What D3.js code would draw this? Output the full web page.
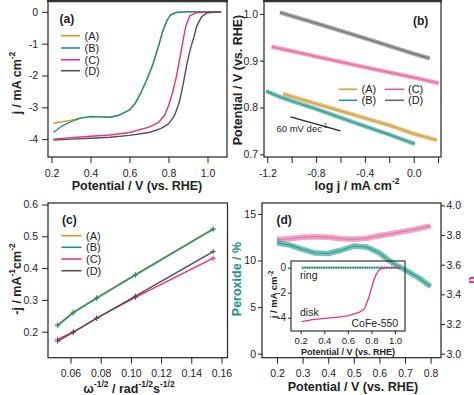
<!DOCTYPE html>
<html>
<head>
<meta charset="utf-8">
<script src="https://cdn.jsdelivr.net/npm/d3@7"></script>
<style>
  body { margin: 0; background: #fff; }
  svg { font-family: "Liberation Sans", Arial, sans-serif; }
</style>
</head>
<body>
<svg id="fig" width="474" height="395"></svg>
<script>
// ---- data ----
// (a) LSV curves
const lsvV_AB = [0.21, 0.25, 0.30, 0.35, 0.40, 0.45, 0.50, 0.55, 0.60, 0.63, 0.66, 0.69, 0.72, 0.75, 0.77, 0.79, 0.81, 0.84, 0.88, 0.95, 1.07];
const lsvJ_A = [-3.50, -3.46, -3.40, -3.33, -3.29, -3.30, -3.31, -3.24, -3.08, -2.87, -2.52, -2.12, -1.65, -1.05, -0.62, -0.30, -0.10, -0.02, 0, 0, 0];
const lsvJ_B = [-3.79, -3.60, -3.45, -3.34, -3.29, -3.30, -3.31, -3.24, -3.08, -2.87, -2.52, -2.12, -1.65, -1.05, -0.62, -0.30, -0.10, -0.02, 0, 0, 0];
const lsvV_C = [0.21, 0.30, 0.40, 0.50, 0.60, 0.70, 0.75, 0.78, 0.80, 0.82, 0.84, 0.86, 0.875, 0.89, 0.91, 0.95, 1.07];
const lsvJ_C = [-4.00, -3.95, -3.91, -3.87, -3.79, -3.62, -3.47, -3.25, -2.95, -2.55, -2.05, -1.40, -0.88, -0.42, -0.12, -0.02, 0];
const lsvV_D = [0.21, 0.30, 0.40, 0.50, 0.60, 0.70, 0.76, 0.80, 0.83, 0.855, 0.875, 0.895, 0.915, 0.93, 0.945, 0.97, 1.00, 1.07];
const lsvJ_D = [-4.03, -4.00, -3.97, -3.94, -3.88, -3.79, -3.67, -3.52, -3.27, -2.85, -2.28, -1.62, -1.10, -0.80, -0.45, -0.15, -0.03, 0];

// (b) Tafel plots
const tafX_A = [-1.07, -0.8, -0.5, -0.2, 0.0, 0.19];
const tafY_A = [0.829, 0.808, 0.785, 0.762, 0.744, 0.730];
const tafX_B = [-1.21, -1.1, -1.0, -0.8, -0.5, -0.2, 0.01];
const tafY_B = [0.835, 0.823, 0.814, 0.797, 0.769, 0.742, 0.722];
const tafX_C = [-1.165, -0.8, -0.4, 0.0, 0.205];
const tafY_C = [0.930, 0.909, 0.886, 0.864, 0.852];
const tafX_D = [-1.096, -0.8, -0.4, 0.0, 0.131];
const tafY_D = [1.003, 0.980, 0.948, 0.915, 0.905];
const slopeX = [-1.01, -0.60];
const slopeY = [0.780, 0.750];

// (c) Koutecky-Levich
const klX = [0.0515, 0.0618, 0.0773, 0.1030, 0.1545];
const klA = [0.222, 0.262, 0.307, 0.380, 0.524];
const klB = [0.219, 0.259, 0.305, 0.378, 0.522];
const klC = [0.176, 0.199, 0.243, 0.308, 0.431];
const klD = [0.170, 0.198, 0.242, 0.312, 0.452];

// (d) peroxide yield and electron number
const rrdeV = [0.20, 0.25, 0.30, 0.35, 0.40, 0.45, 0.50, 0.55, 0.60, 0.65, 0.70, 0.75, 0.80];
const peroxide = [11.9, 11.65, 11.2, 10.8, 10.75, 11.1, 11.55, 11.45, 10.8, 9.75, 9.0, 8.2, 7.2];
const electronN = [3.770, 3.775, 3.785, 3.788, 3.785, 3.775, 3.772, 3.778, 3.795, 3.810, 3.825, 3.842, 3.862];
// (d) inset: ring & disk
const diskV = [0.21, 0.30, 0.40, 0.50, 0.60, 0.70, 0.74, 0.76, 0.78, 0.80, 0.82, 0.84, 0.86, 0.88, 0.92, 1.05];
const diskJ = [-4.32, -4.15, -4.05, -3.97, -3.85, -3.55, -3.30, -2.85, -2.30, -1.65, -1.00, -0.55, -0.22, -0.08, -0.02, 0];
const ringV = [0.21, 0.40, 0.60, 0.80, 1.05];
const ringJ = [0, 0, 0, 0, 0];

// ticks
const aTicksX = [0.2, 0.4, 0.6, 0.8, 1.0], aTicksY = [0, -1, -2, -3, -4];
const bTicksX = [-1.2, -0.8, -0.4, 0.0], bMinorX = [-1.0, -0.6, -0.2, 0.2], bTicksY = [0.7, 0.8, 0.9, 1.0];
const cTicksX = [0.06, 0.08, 0.10, 0.12, 0.14, 0.16], cTicksY = [0.2, 0.3, 0.4, 0.5, 0.6];
const dTicksX = [0.2, 0.3, 0.4, 0.5, 0.6, 0.7, 0.8], dTicksL = [0, 5, 10, 15], dTicksR = [3.0, 3.2, 3.4, 3.6, 3.8, 4.0];
const iTicksX = [0.2, 0.4, 0.6, 0.8, 1.0], iTicksY = [0, -2, -4];

const legendNames = ["(A)", "(B)", "(C)", "(D)"];

const ink = "#222";
const colA = "#d6952a", colB = "#1b9486", colC = "#e8307c", colD = "#505050";

const svg = d3.select("#fig");

// ---- helpers ----
function box(x, y, w) {
  const [x0, x1] = x.range(), [y0, y1] = y.range();
  svg.append("rect")
    .attr("x", x0).attr("y", y1)
    .attr("width", x1 - x0).attr("height", y0 - y1)
    .attr("fill", "none").attr("stroke", ink).attr("stroke-width", w || 1.2);
}

function styleAxis(g, fs) {
  g.attr("font-family", null).attr("font-size", null);
  g.select(".domain").remove();
  g.selectAll(".tick line").attr("stroke", ink).attr("stroke-width", 1);
  g.selectAll(".tick text").attr("fill", ink).style("font-size", fs + "px");
}

function xAxis(x, y, ticks, fmt, size, pad, fs) {
  const g = svg.append("g")
    .attr("transform", `translate(0,${y.range()[0]})`)
    .call(d3.axisBottom(x).tickValues(ticks).tickFormat(fmt).tickSize(size).tickPadding(pad));
  styleAxis(g, fs);
}

function yAxis(x, y, ticks, fmt, size, pad, fs, right) {
  const ax = right ? d3.axisRight(y) : d3.axisLeft(y);
  const g = svg.append("g")
    .attr("transform", `translate(${right ? x.range()[1] : x.range()[0]},0)`)
    .call(ax.tickValues(ticks).tickFormat(fmt).tickSize(size).tickPadding(pad));
  styleAxis(g, fs);
}

// text made of parts; sup parts are raised and smaller
function rich(x, y, parts, opt) {
  const fs = opt.size;
  const t = svg.append("text")
    .attr("text-anchor", opt.anchor || "middle")
    .attr("font-weight", opt.bold ? "bold" : "normal")
    .attr("fill", opt.color || ink)
    .style("font-size", fs + "px");
  if (opt.rotate) t.attr("transform", `translate(${x},${y}) rotate(${opt.rotate})`);
  else t.attr("x", x).attr("y", y);
  let up = false;
  parts.forEach(p => {
    const sup = Array.isArray(p);
    const s = t.append("tspan").text(sup ? p[0] : p);
    if (sup && !up) { s.attr("dy", -fs * 0.42).style("font-size", (fs * 0.68) + "px"); up = true; }
    else if (sup) { s.style("font-size", (fs * 0.68) + "px"); }
    else if (up) { s.attr("dy", fs * 0.42); up = false; }
  });
  return t;
}

function curve(x, y, xs, ys, color, width, extra) {
  const p = svg.append("path")
    .datum(d3.zip(xs, ys))
    .attr("fill", "none")
    .attr("stroke", color)
    .attr("stroke-width", width)
    .attr("stroke-linejoin", "round")
    .attr("d", d3.line().x(d => x(d[0])).y(d => y(d[1])));
  if (extra) extra(p);
  return p;
}

// thick "many markers" trace: soft band, faint hatching, thin core
function fuzzy(x, y, xs, ys, color, width) {
  curve(x, y, xs, ys, color, width, p => p.attr("opacity", 0.55));
  curve(x, y, xs, ys, color, width, p => p.attr("stroke-dasharray", "0.7 1.1").attr("opacity", 0.35));
  curve(x, y, xs, ys, color, 1.1, p => p.attr("opacity", 0.9));
}

function legend(x0, x1, xt, ys, names, colors, fs) {
  names.forEach((n, i) => {
    svg.append("line").attr("x1", x0).attr("x2", x1).attr("y1", ys[i]).attr("y2", ys[i])
      .attr("stroke", colors[i]).attr("stroke-width", 1.6);
    svg.append("text").attr("x", xt).attr("y", ys[i] + 4).attr("fill", ink)
      .style("font-size", fs + "px").text(n);
  });
}

const f1 = d => d.toFixed(1);
const f2 = d => d.toFixed(2);
const fi = d => String(d);

// ---- (a) ----
const xA = d3.scaleLinear().domain([0.182, 1.10]).range([48, 227]);
const yA = d3.scaleLinear().domain([-4.56, 0.34]).range([157, 1]);
curve(xA, yA, lsvV_AB, lsvJ_A, colA, 1.4);
curve(xA, yA, lsvV_AB, lsvJ_B, colB, 1.4);
curve(xA, yA, lsvV_C, lsvJ_C, colC, 1.4);
curve(xA, yA, lsvV_D, lsvJ_D, colD, 1.4);
box(xA, yA);
svg.append("line").attr("x1", 47).attr("x2", 228).attr("y1", 1).attr("y2", 1)
  .attr("stroke", "#333").attr("stroke-width", 2.4);
xAxis(xA, yA, aTicksX, f1, 6, 7, 10.5);
yAxis(xA, yA, aTicksY, fi, 6, 4, 10.5);
rich(137, 189.5, ["Potential / V (vs. RHE)"], { size: 12.5, bold: true });
rich(20.5, 83, ["j / mA cm", ["-2"]], { size: 12.5, bold: true, rotate: -90 });
rich(59.5, 22.5, ["(a)"], { size: 12, bold: true, anchor: "start" });
legend(61, 80, 84.5, [35.7, 48, 59.7, 70.7], legendNames, [colA, colB, colC, colD], 11);

// ---- (b) ----
const xB = d3.scaleLinear().domain([-1.227, 0.224]).range([264, 441]);
const yB = d3.scaleLinear().domain([0.6942, 1.0276]).range([157, 1]);
const tafel = [[tafX_A, tafY_A, "#d49a34"], [tafX_B, tafY_B, "#23998c"], [tafX_C, tafY_C, "#eb5c97"], [tafX_D, tafY_D, "#6a6a6a"]];
tafel.forEach(([xs, ys, c]) => fuzzy(xB, yB, xs, ys, c, 4.2));
curve(xB, yB, slopeX, slopeY, ink, 1.1);
rich(276.5, 131.5, ["60 mV dec", ["-1"]], { size: 9.5, anchor: "start" });
box(xB, yB);
svg.append("line").attr("x1", 263).attr("x2", 442).attr("y1", 1).attr("y2", 1)
  .attr("stroke", "#333").attr("stroke-width", 2.4);
xAxis(xB, yB, bTicksX, f1, 6, 7, 10.5);
xAxis(xB, yB, bMinorX, () => "", 6, 0, 10.5);
yAxis(xB, yB, bTicksY, f1, 4, 2, 10.5);
rich(357, 189.5, ["log j / mA cm", ["-2"]], { size: 12.5, bold: true });
rich(242, 80, ["Potential / V (vs. RHE)"], { size: 12.5, bold: true, rotate: -90 });
rich(413, 24.5, ["(b)"], { size: 12, bold: true, anchor: "start" });
legend(339, 357, 361.5, [89.3, 100.3], ["(A)", "(B)"], ["#d49a34", "#23998c"], 11);
legend(385, 404, 408, [89.3, 100.3], ["(C)", "(D)"], ["#eb5c97", "#6a6a6a"], 11);

// ---- (c) ----
const xC = d3.scaleLinear().domain([0.0451, 0.1640]).range([48, 227.5]);
const yC = d3.scaleLinear().domain([0.1182, 0.6047]).range([357.7, 203]);
const plus = "M-2.6,0H2.6M0,-2.6V2.6";
[[klA, colA], [klB, colB], [klC, colC], [klD, colD]].forEach(([ys, c]) => {
  curve(xC, yC, klX, ys, c, 1.4);
  svg.append("g").selectAll("path").data(d3.zip(klX, ys)).join("path")
    .attr("transform", d => `translate(${xC(d[0])},${yC(d[1])})`)
    .attr("d", plus).attr("stroke", c).attr("stroke-width", 1).attr("fill", "none");
});
box(xC, yC);
xAxis(xC, yC, cTicksX, f2, 6, 6, 10.5);
yAxis(xC, yC, cTicksY, f1, 6, 4, 10.5);
rich(129, 392.5, ["\u03c9", ["-1/2"], " / rad", ["-1/2"], "s", ["-1/2"]], { size: 12.5, bold: true });
rich(20.5, 279, ["-j / mA", ["-1"], "cm", ["-2"]], { size: 12.5, bold: true, rotate: -90 });
rich(62, 224, ["(c)"], { size: 12, bold: true, anchor: "start" });
legend(61.5, 81.5, 86, [235.7, 247.3, 259, 270.7], legendNames, [colA, colB, colC, colD], 11);

// ---- (d) ----
const xD = d3.scaleLinear().domain([0.1414, 0.8406]).range([262, 441]);
const yDL = d3.scaleLinear().domain([-0.43, 16.17]).range([357.7, 203]);
const yDR = d3.scaleLinear().domain([2.973, 4.016]).range([357.7, 203]);

// inset scales; white background goes under the main traces
const xI = d3.scaleLinear().domain([0.1177, 1.0847]).range([291, 405]);
const yI = d3.scaleLinear().domain([-5.064, 0.536]).range([331, 261]);
svg.append("rect").attr("x", xI.range()[0]).attr("y", yI.range()[1])
  .attr("width", xI.range()[1] - xI.range()[0]).attr("height", yI.range()[0] - yI.range()[1])
  .attr("fill", "#fff");

fuzzy(xD, yDR, rrdeV, electronN, "#e8679f", 5.5);
fuzzy(xD, yDL, rrdeV, peroxide, "#1f9a8c", 5.5);
box(xD, yDL);
xAxis(xD, yDL, dTicksX, f1, 6, 6, 10.5);
yAxis(xD, yDL, dTicksL, fi, 4, 2, 10.5);
yAxis(xD, yDR, dTicksR, f1, 4, 1.5, 10.5, true);
rich(353, 390.5, ["Potential / V (vs. RHE)"], { size: 12.5, bold: true });
rich(241, 279, ["Peroxide / %"], { size: 12.5, bold: true, rotate: -90, color: "#1b9486" });
rich(476, 280, ["n"], { size: 13, bold: true, rotate: -90, color: "#e8307c" });
rich(276.5, 224, ["(d)"], { size: 12, bold: true, anchor: "start" });

// inset content
curve(xI, yI, ringV, ringJ, "#555", 0.8);
curve(xI, yI, ringV, ringJ, "#1b9486", 2.2, p => p.attr("stroke-dasharray", "1.4 1"));
curve(xI, yI, diskV, diskJ, colC, 1.3);
box(xI, yI, 1.1);
xAxis(xI, yI, iTicksX, f1, 3, 3.5, 9.5);
yAxis(xI, yI, iTicksY, fi, 3, 2, 10);
rich(348, 354.5, ["Potential / V (vs. RHE)"], { size: 9, bold: true });
rich(277, 294.5, ["j / mA cm", ["-2"]], { size: 9.5, bold: true, rotate: -90 });
rich(300, 278.5, ["ring"], { size: 10.5, anchor: "start" });
rich(300, 315.5, ["disk"], { size: 10.5, anchor: "start" });
rich(351.5, 326.5, ["CoFe-550"], { size: 10.5, anchor: "start" });
</script>
</body>
</html>
